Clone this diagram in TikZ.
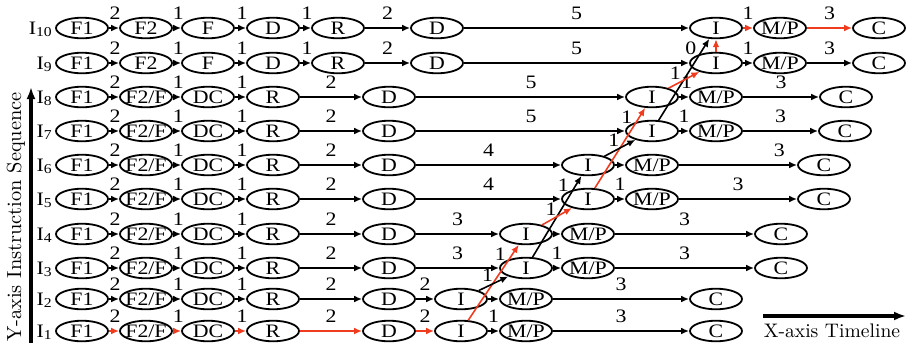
\documentclass[tikz,border=0pt]{standalone}
\usepackage{fontspec}
\newfontfamily\nodefamily{Liberation Serif}[FakeStretch=1.15]
\newcommand\nodefnt{\nodefamily\fontsize{9.5}{11}\selectfont}
\newcommand\rowsub[1]{\raisebox{-1pt}{\fontsize{6.8}{7}\selectfont #1}}
\usetikzlibrary{shapes.geometric,arrows.meta}
\definecolor{crit}{RGB}{240,60,30}
\tikzset{
  st/.style={ellipse, draw, line width=0.9pt, minimum width=26pt, minimum height=10.3pt,
    inner xsep=-5pt, inner ysep=0pt, text height=6.3pt, text depth=0pt, font=\nodefnt},
  flow/.style={line width=0.8pt, -{Latex[length=4pt,width=3.4pt]}},
  lbl/.style={inner sep=0pt, above=4pt, text=black, font=\nodefnt},
  dlsteep/.style={inner sep=0pt, pos=0.88, left=3pt, text=black, font=\nodefnt},
  dlflat/.style={inner sep=0pt, pos=0.3, above=2pt, text=black, font=\nodefnt},
  rowlbl/.style={inner sep=0pt, anchor=base east, xshift=-1.5pt, yshift=-3.2pt, font=\nodefnt},
  axisarrow/.style={line width=2pt, -{Latex[length=6pt,width=4.5pt]}},
  axislbl/.style={inner sep=0pt, font=\fontsize{10.2}{12}\selectfont}
}
\begin{document}
\begin{tikzpicture}[x=0.5pt, y=-0.5pt]
\useasboundingbox (0,0) rectangle (906,343);

% instructions I1..I8: F1, F2/F, DC, R, D, I, M/P, C
\foreach \r/\y/\xi/\xm/\xc/\lat/\lp/\mp/\cp/\ml/\col in {
  1/331/461/526/716/2/0.5/0.5/0.5/1/crit,
  2/299/461/526/716/2/0.5/0.5/0.5/0/black,
  3/268/526/588/781/3/0.5/0.5/0.5/1/black,
  4/234/526/588/781/3/0.5/0.5/0.5/0/black,
  5/199/588/652/824/4/0.5/0.5/0.5/1/black,
  6/165/588/652/824/4/0.5/0.5/0.85/0/black,
  7/131/652/716/845/5/0.55/0.5/0.5/1/black,
  8/97/652/716/846/5/0.55/0.75/0.5/1/black}
{
  \node[st] (F1-\r) at (82,\y) {F1};
  \node[st] (F2-\r) at (146,\y) {F2/F};
  \node[st] (DC-\r) at (208,\y) {DC};
  \node[st] (R-\r) at (273,\y) {R};
  \node[st] (D-\r) at (389,\y) {D};
  \node[st] (I-\r) at (\xi,\y) {I};
  \node[st] (MP-\r) at (\xm,\y) {M/P};
  \node[st] (C-\r) at (\xc,\y) {C};
  \node[rowlbl] (L-\r) at (F1-\r.west) {I\rowsub{\r}};
  \draw[flow, color=\col] (F1-\r) -- node[lbl, pos=0.6] {2} (F2-\r);
  \draw[flow, color=\col] (F2-\r) -- node[lbl, pos=0.65] {1} (DC-\r);
  \draw[flow, color=\col] (DC-\r) -- node[lbl, pos=0.65] {1} (R-\r);
  \draw[flow, color=\col] (R-\r) -- node[lbl] {2} (D-\r);
  \draw[flow, color=\col] (D-\r) -- node[lbl, pos=\lp] {\lat} (I-\r);
  \ifnum\ml=1
    \draw[flow] (I-\r) -- node[lbl, pos=\mp] {1} (MP-\r);
  \else
    \draw[flow] (I-\r) -- (MP-\r);
  \fi
  \draw[flow] (MP-\r) -- node[lbl, pos=\cp] {3} (C-\r);
}

% instructions I9, I10: F1, F2, F, D, R, D, I, M/P, C
\foreach \r/\y/\col in {9/63/black, 10/28/crit}
{
  \node[st] (F1-\r) at (82,\y) {F1};
  \node[st] (F2-\r) at (146,\y) {F2};
  \node[st] (F-\r) at (208,\y) {F};
  \node[st] (DD-\r) at (273,\y) {D};
  \node[st] (R-\r) at (338,\y) {R};
  \node[st] (D-\r) at (437,\y) {D};
  \node[st] (I-\r) at (716,\y) {I};
  \node[st] (MP-\r) at (780,\y) {M/P};
  \node[st] (C-\r) at (879,\y) {C};
  \node[rowlbl] (L-\r) at (F1-\r.west) {I\rowsub{\r}};
  \draw[flow] (F1-\r) -- node[lbl, pos=0.6] {2} (F2-\r);
  \draw[flow] (F2-\r) -- node[lbl, pos=0.65] {1} (F-\r);
  \draw[flow] (F-\r) -- node[lbl, pos=0.65] {1} (DD-\r);
  \draw[flow] (DD-\r) -- node[lbl, pos=0.65] {1} (R-\r);
  \draw[flow] (R-\r) -- node[lbl] {2} (D-\r);
  \draw[flow] (D-\r) -- node[lbl] {5} (I-\r);
  \draw[flow, color=\col] (I-\r) -- node[lbl] {1} (MP-\r);
  \draw[flow, color=\col] (MP-\r) -- node[lbl] {3} (C-\r);
}

% data dependencies between issue stages
\draw[flow, crit] (I-1) -- node[dlsteep] {1} (I-4);
\draw[flow] (I-2) -- node[dlflat] {1} (I-3);
\draw[flow] (I-3) -- node[dlsteep] {1} (I-6);
\draw[flow, crit] (I-4) -- node[dlflat] {1} (I-5);
\draw[flow, crit] (I-5) -- node[dlsteep] {1} (I-8);
\draw[flow] (I-6) -- node[dlflat] {1} (I-7);
\draw[flow] (I-7) -- node[dlsteep] {0} (I-10);
\draw[flow, crit] (I-8) -- node[dlflat, pos=0.22] {1} (I-9);
\draw[flow, crit] (I-9) -- (I-10);

% axes
\coordinate (ybot) at (31,343);
\coordinate (ytop) at (31,87);
\draw[axisarrow] (ybot) -- (ytop);
\node[axislbl, rotate=90] (ylab) at (16,217) {Y-axis Instruction Sequence};
\coordinate (xbeg) at (763,316);
\coordinate (xend) at (906,316);
\draw[axisarrow] (xbeg) -- (xend);
\node[axislbl, anchor=base, font=\fontsize{9.8}{12}\selectfont] (xlab) at (832,337) {X-axis Timeline};
\end{tikzpicture}
\end{document}
